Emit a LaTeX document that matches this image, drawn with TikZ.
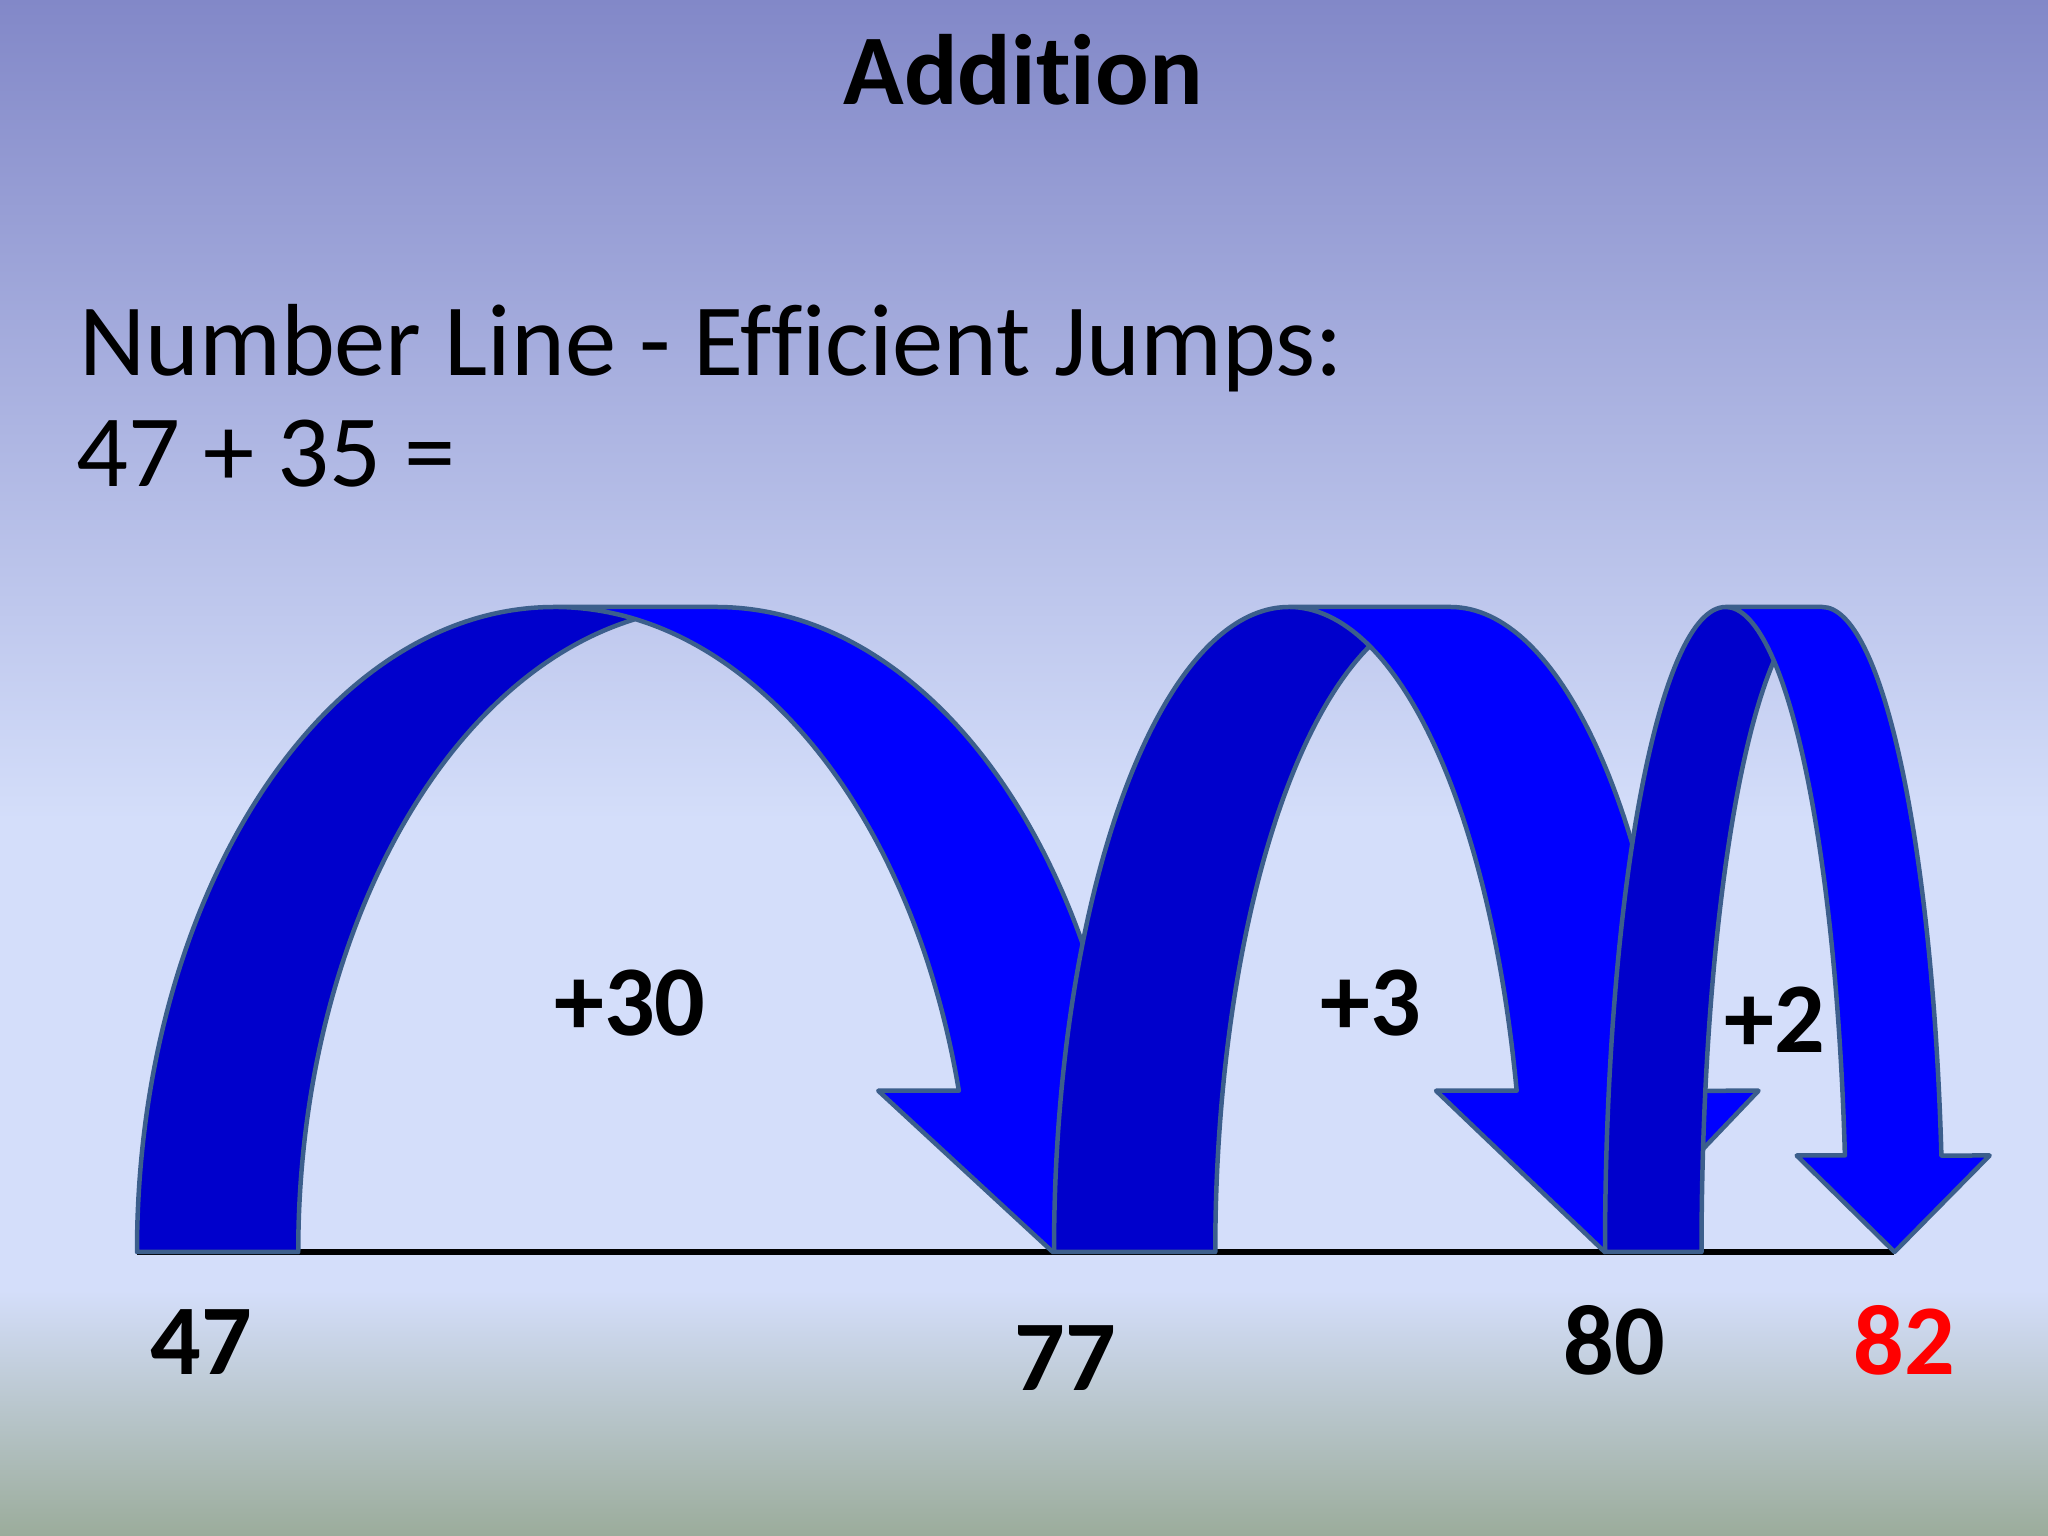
\documentclass[tikz,border=0pt]{standalone}
\usepackage{fontspec}
\setmainfont{Carlito}[Ligatures=CommonOff]
\definecolor{bgtop}{RGB}{130,136,200}
\definecolor{bgmid}{RGB}{212,222,250}
\definecolor{bgbot}{RGB}{155,172,155}
\definecolor{frontblue}{RGB}{0,0,255}
\definecolor{backblue}{RGB}{0,0,204}
\definecolor{edgeblue}{RGB}{60,95,140}
\definecolor{answerred}{RGB}{255,0,0}
\tikzset{
  edge/.style={draw=edgeblue,line width=4.5,line join=round},
  numlab/.style={inner sep=0,anchor=base,font=\fontsize{100}{120}\selectfont\bfseries},
  bodytxt/.style={inner sep=0,anchor=base west,font=\fontsize{102.5}{120}\selectfont},
}
\newcommand\jumparrow[3]{%
 \pgfmathsetmacro\qqL{#1}%
 \pgfmathsetmacro\qqW{#2}%
 \pgfmathsetmacro\qqTh{0.25*#3}%
 \pgfmathsetmacro\qqAw{0.5*#3}%
 \pgfmathsetmacro\qqAh{0.25*#3}%
 \pgfmathsetmacro\qqR{\qqW/2-(\qqTh+\qqAw)/4}%
 \pgfmathsetmacro\qqcA{\qqL+\qqR}%
 \pgfmathsetmacro\qqcB{\qqcA+\qqTh}%
 \pgfmathsetmacro\qqtA{acos(\qqTh/(2*\qqR))}%
 \pgfmathsetmacro\qqtB{180-\qqtA}%
 \pgfmathsetmacro\qqta{asin(\qqAh/645)}%
 \pgfmathsetmacro\qqdx{\qqR*cos(\qqta)}%
 \pgfmathsetmacro\qqdh{(\qqAw-\qqTh)/2}%
 \pgfmathsetmacro\qqxv{\qqcA+\qqdx}%
 \pgfmathsetmacro\qqxiv{\qqxv-\qqdh}%
 \pgfmathsetmacro\qqxvii{\qqcB+\qqdx}%
 \pgfmathsetmacro\qqxviii{\qqxvii+\qqdh}%
 \pgfmathsetmacro\qqxvi{\qqL+\qqW-\qqAw/2}%
 \pgfmathsetmacro\qqYi{284+\qqAh}%
 \pgfmathsetmacro\qqix{\qqcA+\qqTh/2}%
 \pgfmathsetmacro\qqiy{284+645*sin(\qqtA)}%
 \fill[frontblue] (\qqxvi,284) -- (\qqxiv,\qqYi) -- (\qqxv,\qqYi)
   arc[start angle=\qqta,end angle=90,x radius=\qqR,y radius=645]
   -- (\qqcB,929)
   arc[start angle=90,end angle=\qqta,x radius=\qqR,y radius=645]
   -- (\qqxviii,\qqYi) -- cycle;
 \fill[backblue] (\qqL,284)
   arc[start angle=180,end angle=\qqtA,x radius=\qqR,y radius=645]
   arc[start angle=\qqtB,end angle=180,x radius=\qqR,y radius=645]
   -- cycle;
 \draw[edge] (\qqix,\qqiy)
   arc[start angle=\qqtB,end angle=180,x radius=\qqR,y radius=645]
   -- (\qqL,284)
   arc[start angle=180,end angle=90,x radius=\qqR,y radius=645]
   -- (\qqcB,929)
   arc[start angle=90,end angle=\qqta,x radius=\qqR,y radius=645]
   -- (\qqxviii,\qqYi) -- (\qqxvi,284) -- (\qqxiv,\qqYi) -- (\qqxv,\qqYi)
   arc[start angle=\qqta,end angle=90,x radius=\qqR,y radius=645];
}
\begin{document}
\begin{tikzpicture}[x=1pt,y=1pt]
\useasboundingbox (0,0) rectangle (2048,1536);
% background
\shade[top color=bgtop,bottom color=bgmid] (0,1536) rectangle (2048,716);
\fill[bgmid] (0,716.5) rectangle (2048,245.5);
\shade[top color=bgmid,bottom color=bgbot] (0,246) rectangle (2048,0);
% number line
\coordinate (lineL) at (137,284);
\coordinate (lineR) at (1894,284);
\draw[line width=5.5] (lineL) -- (lineR);
% jumps
\jumparrow{137}{1077}{645}
\jumparrow{1054}{712}{645}
\jumparrow{1605}{386}{386}
% texts
\node[inner sep=0,anchor=base,font=\fontsize{100}{120}\selectfont\bfseries] (title) at (1023,1431) {Addition};
\node[bodytxt] (line1) at (79,1160) {Number Line - Efficient Jumps:};
\node[bodytxt] (line2) at (76,1049) {47 + 35 =};
\node[numlab] (j30) at (630,500) {+30};
\node[numlab] (j3) at (1371,500) {+3};
\node[numlab] (j2) at (1775,483) {+2};
\node[numlab] (n47) at (201,161) {47};
\node[numlab] (n77) at (1065,145) {77};
\node[numlab] (n80) at (1614,161) {80};
\node[numlab,text=answerred] (n82) at (1904,161) {82};
\end{tikzpicture}
\end{document}
